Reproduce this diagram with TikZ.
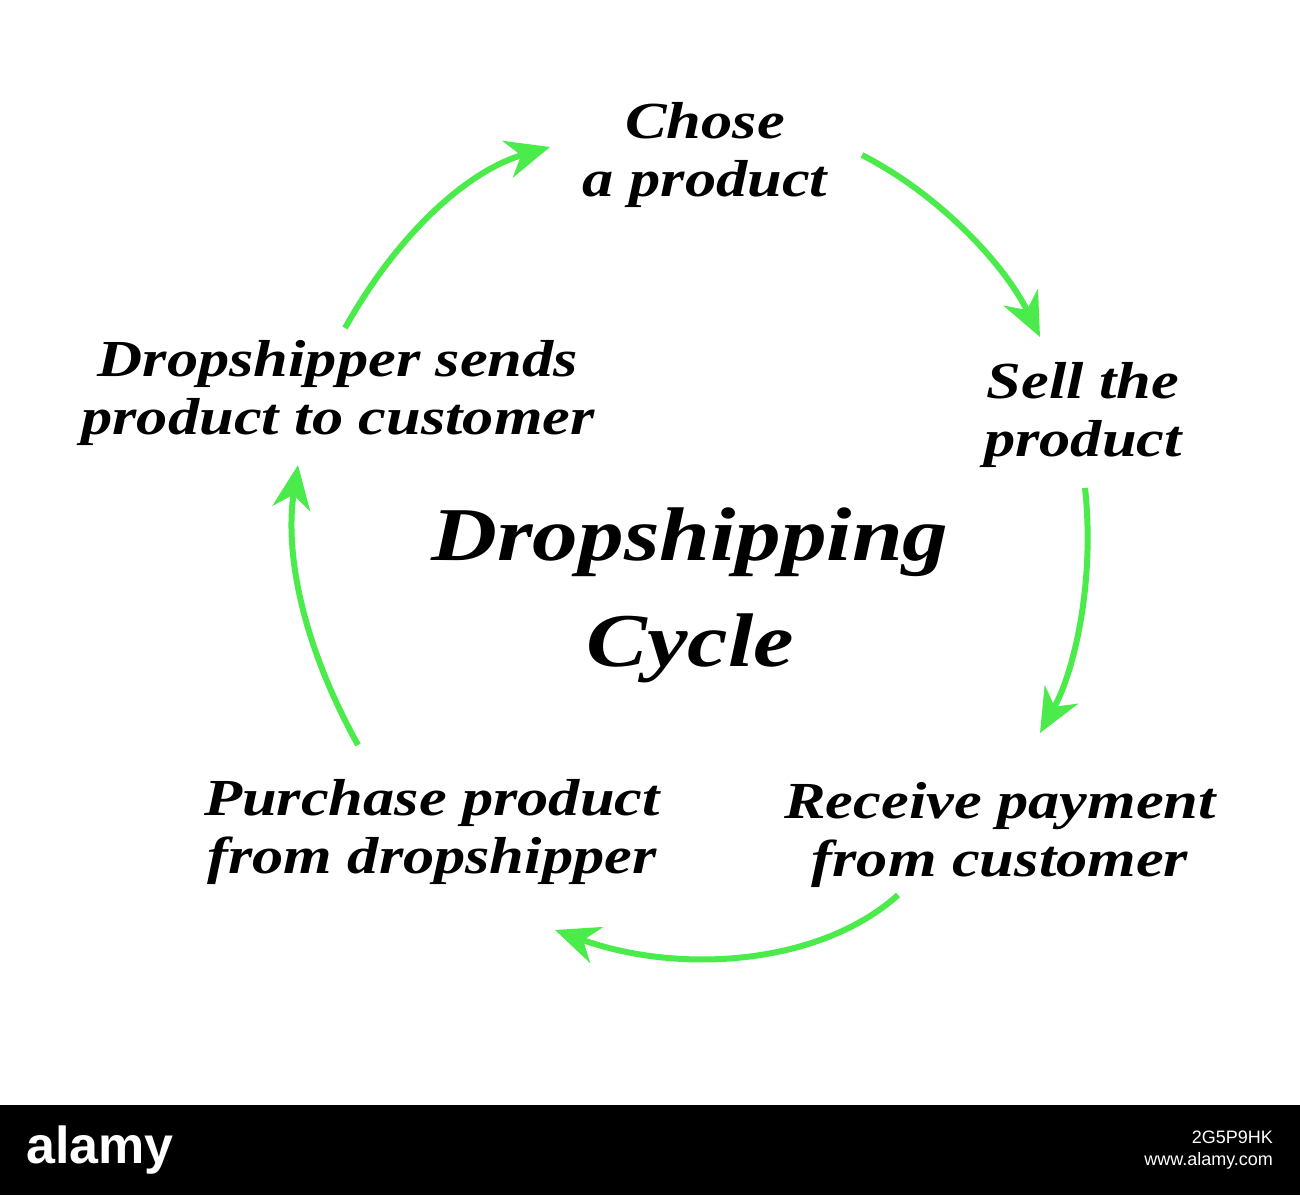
\documentclass[tikz,border=0pt]{standalone}
\usepackage{fontspec}
\setmainfont{Liberation Serif}[FakeStretch=1.2]
\setsansfont{Liberation Sans}
\usetikzlibrary{arrows.meta}
\definecolor{lg}{HTML}{4CEB4C}
\tikzset{
  lbl/.style={font=\fontsize{26}{29}\selectfont\bfseries\itshape, align=center, inner sep=0},
  cyc/.style={draw=lg, line width=3pt, -{Stealth[length=22pt,width=19pt,inset=7pt]}}
}
\begin{document}
\begin{tikzpicture}[x=0.5pt,y=-0.5pt]
\useasboundingbox (0,0) rectangle (1300,1195);
\fill[white] (0,0) rectangle (1300,1105);
\fill[black] (0,1105) rectangle (1300,1195);
\node[text=white,font=\sffamily\bfseries\fontsize{26}{28}\selectfont] (brand) at (100,1150) {alamy};
\node[text=white,font=\sffamily\fontsize{9}{11}\selectfont,align=right,anchor=east] (code) at (1280,1150) {2G5P9HK\\www.alamy.com};

\node[lbl] (chose) at (705,155) {Chose\\a product};
\node[lbl] (sell) at (1083,415) {Sell the\\product};
\node[lbl] (recv) at (1000,835) {Receive payment\\from customer};
\node[lbl] (purch) at (432,832) {Purchase product\\from dropshipper};
\node[lbl] (sends) at (338,393) {Dropshipper sends\\product to customer};
\node[lbl, font=\fontsize{38}{53}\selectfont\bfseries\itshape] (title) at (690,595) {Dropshipping\\Cycle};

\coordinate (a1) at (345,328); \coordinate (b1) at (550,147);
\coordinate (a2) at (862,155); \coordinate (b2) at (1040,337);
\coordinate (a3) at (1085,488); \coordinate (b3) at (1040,733);
\coordinate (a4) at (898,895); \coordinate (b4) at (555,930);
\coordinate (a5) at (358,745); \coordinate (b5) at (298,465);

\draw[cyc] (a1) .. controls (400,230) and (470,170) .. (b1);
\draw[cyc] (a2) .. controls (940,195) and (1005,265) .. (b2);
\draw[cyc] (a3) .. controls (1095,580) and (1075,670) .. (b3);
\draw[cyc] (a4) .. controls (820,965) and (680,975) .. (b4);
\draw[cyc] (a5) .. controls (300,640) and (285,550) .. (b5);
\end{tikzpicture}
\end{document}
